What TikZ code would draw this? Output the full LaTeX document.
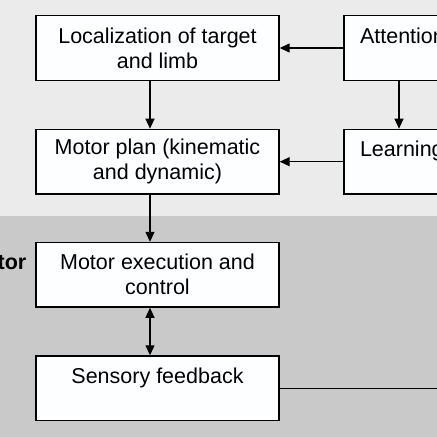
\documentclass[tikz,border=0pt]{standalone}
\usepackage{fontspec}
\setmainfont{Liberation Sans}
\usetikzlibrary{arrows.meta}
\definecolor{bgtop}{RGB}{235,235,235}
\definecolor{bgbot}{RGB}{201,201,201}
\definecolor{boxfill}{RGB}{253,254,255}
\tikzset{
  box/.style={draw=black, line width=1.4pt, fill=boxfill, minimum width=243pt,
    minimum height=64.6pt, inner sep=0pt, align=center,
    font=\fontsize{21.5}{25}\selectfont},
  rbox/.style={box, align=left, minimum width=0pt, text width=211pt, inner xsep=16pt},
  conn/.style={line width=1.3pt, draw=black},
  arr/.style={conn, -{Triangle[length=10pt,width=9pt]}},
  darr/.style={conn, {Triangle[length=10pt,width=9pt]}-{Triangle[length=10pt,width=9pt]}},
}
\begin{document}
\begin{tikzpicture}[x=1pt,y=1pt]
\useasboundingbox (0,0) rectangle (437,437);
\clip (0,0) rectangle (437,437);
\fill[bgtop] (0,221.3) rectangle (437,437);
\fill[bgbot] (0,0) rectangle (437,221.3);
\node[box] (loc) at (157.5,389) {Localization of target\\and limb};
\node[box] (plan) at (157.5,275.3) {Motor plan (kinematic\\and dynamic)};
\node[box] (exec) at (157.5,162.2) {Motor execution and\\control};
\node[box] (sens) at (157.5,48.7) {Sensory feedback\\\mbox{}};
\node[rbox, anchor=west] (att) at (343.3,389) {Attention\\\mbox{}};
\node[rbox, anchor=west] (learn) at (343.3,275.3) {Learning\\\mbox{}};
\node[anchor=base east, inner sep=0pt, font=\fontsize{21.5}{25}\selectfont\bfseries] (motorlbl) at (26.5,167) {Motor};
\coordinate (fbend) at (445,48.7);
\draw[arr] (att.west) -- (loc.east);
\draw[arr] (learn.west) -- (plan.east);
\draw[arr] ([xshift=-7.5pt]loc.south) -- ([xshift=-7.5pt]plan.north);
\draw[arr] ([xshift=55.7pt]att.south west) -- ([xshift=55.7pt]learn.north west);
\draw[arr] ([xshift=-7.5pt]plan.south) -- ([xshift=-7.5pt]exec.north);
\draw[darr] ([xshift=-7.5pt]exec.south) -- ([xshift=-7.5pt]sens.north);
\draw[conn] (sens.east) -- (fbend);
\end{tikzpicture}
\end{document}
